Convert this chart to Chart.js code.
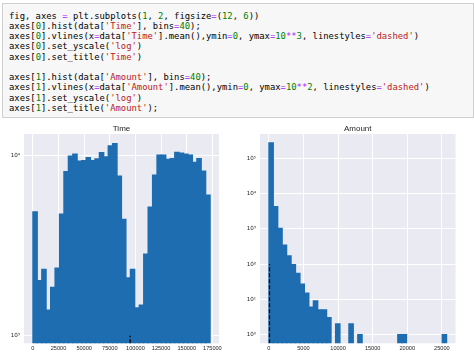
<!DOCTYPE html>
<html>
<head>
<meta charset="utf-8">
<script src="https://cdn.jsdelivr.net/npm/chart.js@4.4.0/dist/chart.umd.min.js"></script>
<style>
  html, body { margin: 0; padding: 0; background: #fff; }
  body { width: 474px; height: 357px; position: relative; overflow: hidden; }
  #code {
    position: absolute; left: 1.5px; top: 3px; width: 470px; height: 113px;
    background: #f7f7f7; border: 1px solid #cfcfcf;
  }
  #code pre {
    position: absolute; left: 6.5px; top: 6.6px; margin: 0;
    font-family: "DejaVu Sans Mono", "Liberation Mono", monospace;
    font-size: 8.85px; line-height: 10.25px; color: #000;
  }
  .o { color: #aa22ff; }
  .n { color: #008000; }
  .s { color: #ba2121; }
  .box { position: absolute; top: 118px; width: 237px; height: 239px; }
  #c1 { left: 0; }
  #c2 { left: 237px; }
</style>
</head>
<body>
<div id="code"><pre>fig, axes <span class="o">=</span> plt.subplots(<span class="n">1</span>, <span class="n">2</span>, figsize<span class="o">=</span>(<span class="n">12</span>, <span class="n">6</span>))
axes[<span class="n">0</span>].hist(data[<span class="s">'Time'</span>], bins<span class="o">=</span><span class="n">40</span>);
axes[<span class="n">0</span>].vlines(x<span class="o">=</span>data[<span class="s">'Time'</span>].mean(),ymin<span class="o">=</span><span class="n">0</span>, ymax<span class="o">=</span><span class="n">10</span><span class="o">**</span><span class="n">3</span>, linestyles<span class="o">=</span><span class="s">'dashed'</span>)
axes[<span class="n">0</span>].set_yscale(<span class="s">'log'</span>)
axes[<span class="n">0</span>].set_title(<span class="s">'Time'</span>)

axes[<span class="n">1</span>].hist(data[<span class="s">'Amount'</span>], bins<span class="o">=</span><span class="n">40</span>);
axes[<span class="n">1</span>].vlines(x<span class="o">=</span>data[<span class="s">'Amount'</span>].mean(),ymin<span class="o">=</span><span class="n">0</span>, ymax<span class="o">=</span><span class="n">10</span><span class="o">**</span><span class="n">2</span>, linestyles<span class="o">=</span><span class="s">'dashed'</span>)
axes[<span class="n">1</span>].set_yscale(<span class="s">'log'</span>)
axes[<span class="n">1</span>].set_title(<span class="s">'Amount'</span>);</pre></div>
<div class="box" id="c1"><canvas id="chartTime" width="237" height="239"></canvas></div>
<div class="box" id="c2"><canvas id="chartAmount" width="237" height="239"></canvas></div>
<script>
// ---- data ----
const timeTitle = 'Time';
const timeRange = [0, 172792];
const timeCounts = [4885, 2022, 2340, 1390, 1858, 2377, 4745, 8150, 9960, 10200,
                    9340, 9400, 9750, 9400, 9600, 10400, 9870, 11360, 11660, 7710,
                    4430, 2100, 2340, 1430, 1480, 2840, 5190, 7810, 10090, 10090,
                    9550, 9650, 10440, 10350, 10200, 10090, 9190, 9650, 8220, 6050];
const timeMean = 94813.86;
const timeVlineMax = 1000;
const timeXTicks = [0, 25000, 50000, 75000, 100000, 125000, 150000, 175000];
const timeYTicks = [1000, 10000];
const timeXLimits = [-8640, 181432];
const timeYLimits = [908, 13200];

const amountTitle = 'Amount';
const amountRange = [0, 25691.16];
const amountCounts = [279000, 4270, 1040, 349, 170, 96, 55, 27, 15, 6,
                      9, 5, 5, 3, 0, 2, 0, 0, 2, 0,
                      1, 0, 0, 0, 0, 0, 0, 0, 0, 1,
                      1, 0, 0, 0, 0, 0, 0, 0, 0, 1];
const amountMean = 88.35;
const amountVlineMax = 100;
const amountXTicks = [0, 5000, 10000, 15000, 20000, 25000];
const amountYTicks = [1, 10, 100, 1000, 10000, 100000];
const amountXLimits = [-1284.6, 26975.7];
const amountYLimits = [0.562, 496000];

// ---- rendering ----
const SUP = {'0':'⁰','1':'¹','2':'²','3':'³','4':'⁴','5':'⁵','6':'⁶','7':'⁷','8':'⁸','9':'⁹','-':'⁻'};
function logLabel(v) {
  const e = String(Math.round(Math.log10(v)));
  return '10' + e.split('').map(c => SUP[c]).join('');
}
const areaBg = {
  id: 'areaBg',
  beforeDraw(chart) {
    const a = chart.chartArea, ctx = chart.ctx;
    ctx.save();
    ctx.fillStyle = '#eaeaf2';
    ctx.fillRect(a.left, a.top, a.right - a.left, a.bottom - a.top);
    ctx.restore();
  }
};

function makeHist(id, cfg) {
  const n = cfg.counts.length;
  const w = (cfg.range[1] - cfg.range[0]) / n;
  const bars = cfg.counts.map((c, i) => ({ x: cfg.range[0] + (i + 0.5) * w, y: c > 0 ? c : null }));
  const vline = [{ x: cfg.mean, y: cfg.yLim[0] }, { x: cfg.mean, y: cfg.vmax }];
  new Chart(document.getElementById(id), {
    type: 'bar',
    data: {
      datasets: [
        { type: 'line', data: vline, borderColor: '#000', borderWidth: 1.3, borderDash: [4, 2],
          pointRadius: 0, fill: false, order: 0 },
        { type: 'bar', data: bars, backgroundColor: '#1f6db1', borderWidth: 0, inflateAmount: 0.6,
          barPercentage: 1, categoryPercentage: 1, order: 1 }
      ]
    },
    options: {
      responsive: false, animation: false, devicePixelRatio: 1,
      layout: { padding: { left: 0, right: cfg.padRight, top: 0, bottom: 0 } },
      plugins: {
        legend: { display: false },
        tooltip: { enabled: false },
        title: { display: true, text: cfg.title, fullSize: false, color: '#262626',
                 font: { family: '"Liberation Sans", Arial, sans-serif', size: 8, weight: 'normal' },
                 padding: { top: 5.7, bottom: 0.7 } }
      },
      scales: {
        x: {
          type: 'linear', min: cfg.xLim[0], max: cfg.xLim[1], offset: false,
          afterBuildTicks: s => { s.ticks = cfg.xTicks.map(v => ({ value: v })); },
          afterFit: s => { s.height = 13.7; },
          grid: { color: '#ffffff', lineWidth: 1, drawTicks: false, offset: false },
          border: { display: false },
          ticks: { padding: 2, color: '#262626', autoSkip: false, maxRotation: 0,
                   font: { family: '"Liberation Sans", Arial, sans-serif', size: 5.6 },
                   callback: v => String(v) }
        },
        y: {
          type: 'logarithmic', min: cfg.yLim[0], max: cfg.yLim[1],
          afterBuildTicks: s => { s.ticks = cfg.yTicks.map(v => ({ value: v })); },
          afterFit: s => { s.width = cfg.yWidth; },
          grid: { color: '#ffffff', lineWidth: 1, drawTicks: false },
          border: { display: false },
          ticks: { padding: 4, color: '#262626', autoSkip: false,
                   font: { family: '"DejaVu Sans", sans-serif', size: 5.6 },
                   callback: v => logLabel(v) }
        }
      }
    },
    plugins: [areaBg]
  });
}

makeHist('chartTime', {
  title: timeTitle, range: timeRange, counts: timeCounts, mean: timeMean, vmax: timeVlineMax,
  xTicks: timeXTicks, yTicks: timeYTicks, xLim: timeXLimits, yLim: timeYLimits,
  yWidth: 24, padRight: 18
});
makeHist('chartAmount', {
  title: amountTitle, range: amountRange, counts: amountCounts, mean: amountMean, vmax: amountVlineMax,
  xTicks: amountXTicks, yTicks: amountYTicks, xLim: amountXLimits, yLim: amountYLimits,
  yWidth: 23, padRight: 18.5
});
</script>
</body>
</html>
